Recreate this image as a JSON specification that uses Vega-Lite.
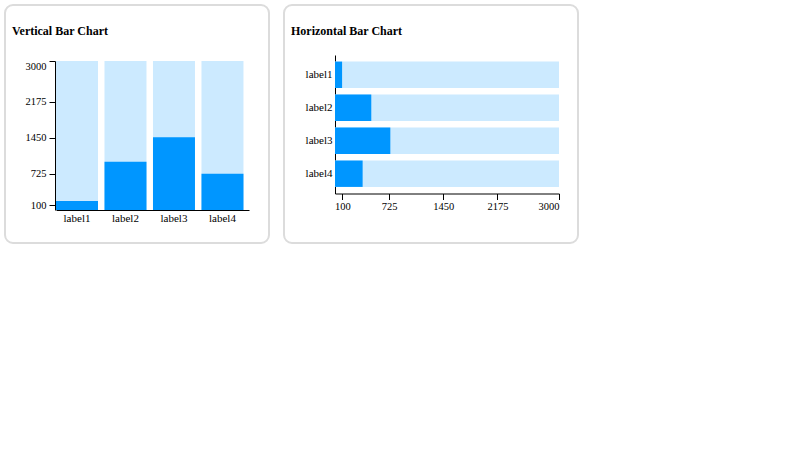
{
  "$schema": "https://vega.github.io/schema/vega-lite/v6.json",
  "padding": {"left": 4, "top": 4, "right": 0, "bottom": 0},
  "background": "white",
  "spacing": 13,
  "datasets": {
    "vertical": [
      {"label": "label1", "value": 180, "max": 3000},
      {"label": "label2", "value": 972, "max": 3000},
      {"label": "label3", "value": 1464, "max": 3000},
      {"label": "label4", "value": 730, "max": 3000}
    ],
    "horizontal": [
      {"label": "label1", "value": 95, "max": 3000},
      {"label": "label2", "value": 486, "max": 3000},
      {"label": "label3", "value": 741, "max": 3000},
      {"label": "label4", "value": 370, "max": 3000}
    ]
  },
  "config": {
    "view": {"stroke": "#dcdcdc", "strokeWidth": 2, "cornerRadius": 8, "fill": "white"},
    "font": "Liberation Serif",
    "axis": {
      "labelFont": "Liberation Serif",
      "labelFontSize": 11,
      "labelColor": "#000",
      "domainColor": "#000",
      "tickColor": "#000",
      "grid": false,
      "title": null
    },
    "title": {
      "font": "Liberation Serif",
      "fontSize": 12,
      "fontWeight": "bold",
      "color": "#000",
      "anchor": "start",
      "frame": "group",
      "offset": 0,
      "baseline": "alphabetic",
      "dx": 7,
      "dy": 37
    }
  },
  "hconcat": [
    {
      "width": 264,
      "height": 238,
      "title": "Vertical Bar Chart",
      "data": {"name": "vertical"},
      "layer": [
        {
          "mark": {"type": "bar", "color": "#cceaff"},
          "encoding": {
            "x": {
              "field": "label", "type": "nominal",
              "scale": {"range": [51, 244], "paddingInner": 0.134, "paddingOuter": 0.057, "align": 0},
              "axis": {"orient": "bottom", "offset": -33, "ticks": false, "labelAngle": 0, "labelPadding": 2}
            },
            "y": {
              "field": "max", "type": "quantitative",
              "scale": {"domain": [0, 3000], "range": [205, 56], "nice": false},
              "axis": {"orient": "left", "offset": -50, "values": [100, 725, 1450, 2175, 3000], "format": "d", "labelFontSize": 10.5, "tickSize": 6, "labelPadding": 3, "labelFlush": true}
            }
          }
        },
        {
          "mark": {"type": "bar", "color": "#0096ff"},
          "encoding": {
            "x": {"field": "label", "type": "nominal"},
            "y": {"field": "value", "type": "quantitative"}
          }
        }
      ]
    },
    {
      "width": 294,
      "height": 238,
      "title": "Horizontal Bar Chart",
      "data": {"name": "horizontal"},
      "layer": [
        {
          "mark": {"type": "bar", "color": "#cceaff"},
          "encoding": {
            "y": {
              "field": "label", "type": "nominal",
              "scale": {"range": [50, 188.5], "paddingInner": 0.2, "paddingOuter": 0.2},
              "axis": {"orient": "left", "offset": -51, "ticks": false, "labelPadding": 3}
            },
            "x": {
              "field": "max", "type": "quantitative",
              "scale": {"domain": [0, 3000], "range": [51, 275], "nice": false},
              "axis": {"orient": "bottom", "offset": -49.5, "values": [100, 725, 1450, 2175, 3000], "format": "d", "labelFontSize": 10.5, "tickSize": 6, "labelPadding": 2, "labelFlush": true}
            }
          }
        },
        {
          "mark": {"type": "bar", "color": "#0096ff"},
          "encoding": {
            "y": {"field": "label", "type": "nominal"},
            "x": {"field": "value", "type": "quantitative"}
          }
        }
      ]
    }
  ]
}
